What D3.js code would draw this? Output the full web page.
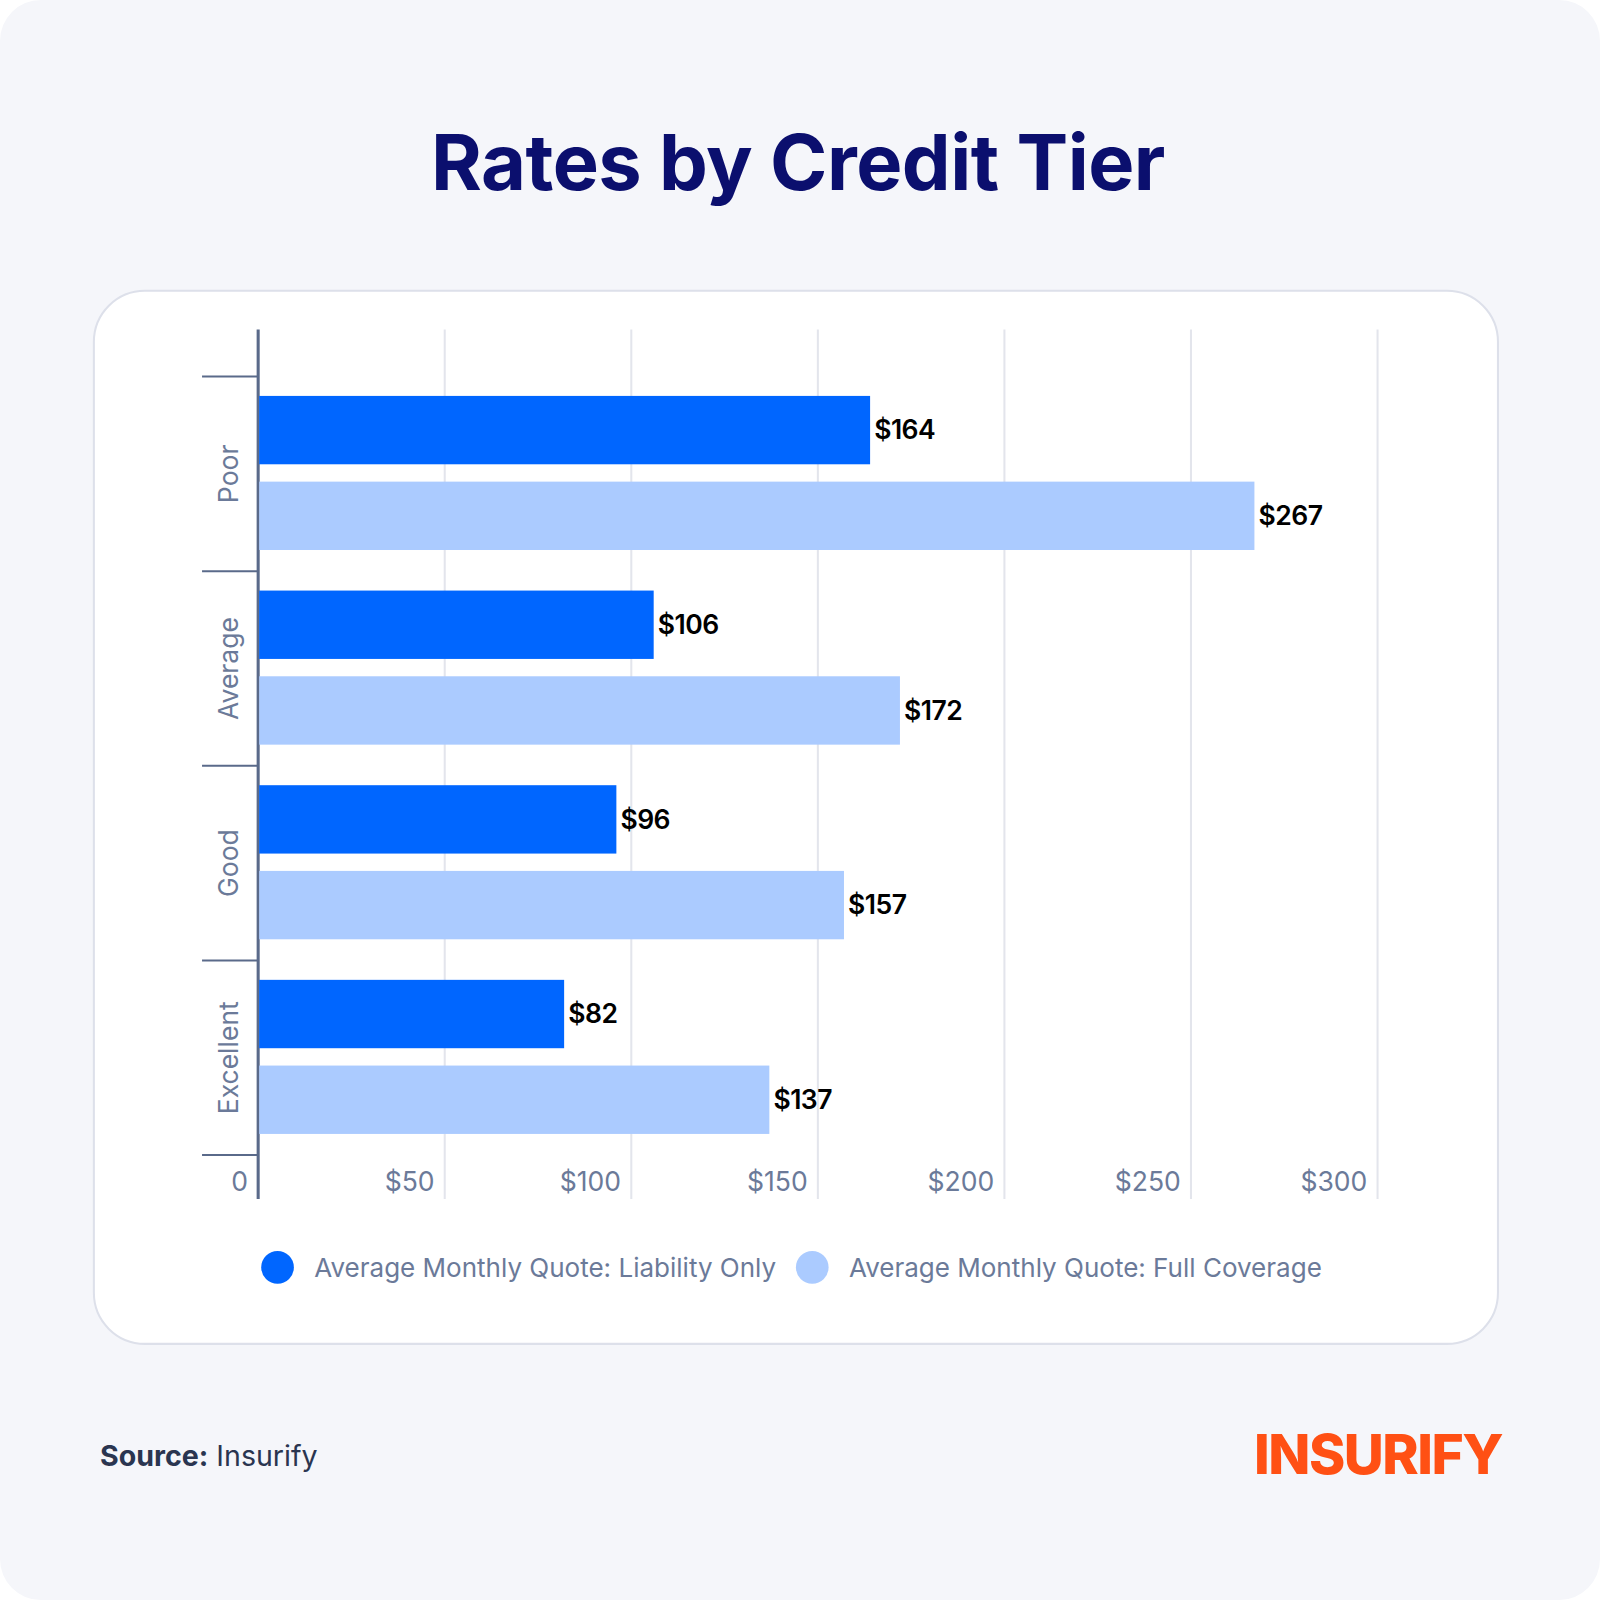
<!DOCTYPE html>
<html><head><meta charset="utf-8">
<script src="https://cdn.jsdelivr.net/npm/d3@7"></script>
<style>body{margin:0;background:#fff}svg{display:block}</style>
</head><body><div id="chart"></div>
<script>
var categories = ["Poor", "Average", "Good", "Excellent"];
var liability = [164, 106, 96, 82];
var fullCoverage = [267, 172, 157, 137];
var ticks = [0, 50, 100, 150, 200, 250, 300];
var seriesNames = ["Average Monthly Quote: Liability Only", "Average Monthly Quote: Full Coverage"];
var colors = ["#0066ff", "#abcbff"];

var W = 1568;
var svg = d3.select("#chart").append("svg")
    .attr("width", 1600).attr("height", 1600)
    .attr("viewBox", "0 0 " + W + " " + W);

svg.append("rect").attr("width", W).attr("height", W).attr("rx", 40).attr("fill", "#f5f6fa");
svg.append("rect").attr("x", 92).attr("y", 285).attr("width", 1376).attr("height", 1032)
    .attr("rx", 50).attr("fill", "#fff").attr("stroke", "#dde0ea").attr("stroke-width", 2);

svg.append("text").attr("x", 782).attr("y", 186).attr("text-anchor", "middle")
    .attr("font-family", "Inter, sans-serif").attr("font-weight", 700).attr("font-size", 76)
    .attr("letter-spacing", -0.5).attr("fill", "#0b0f6e").text("Rates by Credit Tier");

var x = d3.scaleLinear().domain([0, 300]).range([253, 1350]);
var y = d3.scaleBand().domain(categories).range([369, 1132]);
var font = "Inter, sans-serif";

// gridlines
svg.selectAll(".grid").data(ticks.slice(1)).enter().append("line")
    .attr("x1", d => x(d)).attr("x2", d => x(d)).attr("y1", 323).attr("y2", 1175)
    .attr("stroke", "#e3e5ec").attr("stroke-width", 2);

// category ticks
var bounds = categories.map(c => y(c)).concat([y.range()[1]]);
svg.selectAll(".ctick").data(bounds).enter().append("line")
    .attr("x1", 198).attr("x2", 253).attr("y1", d => d).attr("y2", d => d)
    .attr("stroke", "#5a6a8a").attr("stroke-width", 2);

svg.append("line").attr("x1", 253).attr("x2", 253).attr("y1", 323).attr("y2", 1175)
    .attr("stroke", "#5a6a8a").attr("stroke-width", 3);

svg.selectAll(".clab").data(categories).enter().append("text")
    .attr("transform", d => "translate(233," + (y(d) + y.bandwidth() / 2) + ") rotate(-90)")
    .attr("text-anchor", "middle").attr("font-family", font).attr("font-size", 26)
    .attr("fill", "#6b7a99").text(d => d);

svg.selectAll(".tlab").data(ticks).enter().append("text")
    .attr("x", d => x(d) - 10).attr("y", 1167).attr("text-anchor", "end")
    .attr("font-family", font).attr("font-size", 26).attr("fill", "#6b7a99")
    .text(d => d === 0 ? "0" : "$" + d);

var series = [liability, fullCoverage];
var barH = 67, offs = [19, 103];
series.forEach(function (vals, s) {
    var g = svg.append("g");
    g.selectAll("rect").data(categories).enter().append("rect")
        .attr("x", x(0) + 1).attr("y", d => y(d) + offs[s])
        .attr("width", (d, i) => x(vals[i]) - x(0) - 1).attr("height", barH)
        .attr("fill", colors[s]);
    g.selectAll("text").data(categories).enter().append("text")
        .attr("x", (d, i) => x(vals[i]) + 4).attr("y", d => y(d) + offs[s] + barH / 2 + 9)
        .attr("font-family", font).attr("font-weight", 600).attr("font-size", 26)
        .attr("letter-spacing", -0.5).attr("fill", "#000").text((d, i) => "$" + vals[i]);
});

var lx = [272, 796];
seriesNames.forEach(function (n, i) {
    svg.append("circle").attr("cx", lx[i]).attr("cy", 1242).attr("r", 16).attr("fill", colors[i]);
    svg.append("text").attr("x", lx[i] + 36).attr("y", 1251).attr("font-family", font)
        .attr("font-size", 25.5).attr("fill", "#6b7a99").text(n);
});

var src = svg.append("text").attr("x", 98).attr("y", 1437).attr("font-family", font)
    .attr("font-size", 28).attr("fill", "#2a3550");
src.append("tspan").attr("font-weight", 700).text("Source:");
src.append("tspan").text(" Insurify");

svg.append("text").attr("x", 1472).attr("y", 1445).attr("text-anchor", "end")
    .attr("font-family", font).attr("font-weight", 800).attr("font-size", 54)
    .attr("letter-spacing", -1.5).attr("fill", "#ff5014").text("INSURIFY");
</script></body></html>
